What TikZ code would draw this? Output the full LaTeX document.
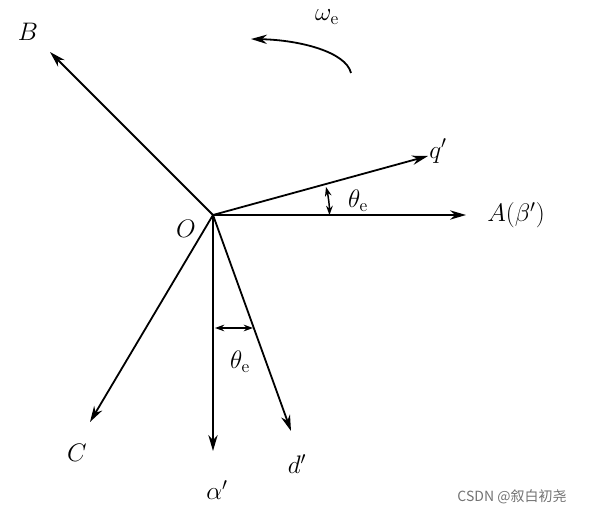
\RequirePackage{fix-cm}
\documentclass[tikz,border=0pt]{standalone}
\usepackage{fontspec}
\newfontfamily\cjk{Noto Sans CJK SC}
\usetikzlibrary{arrows.meta}

\tikzset{
    vec/.style={line width=1.35pt, -{Stealth[length=12pt,width=7pt]}},
    ang/.style={line width=1.1pt, {Stealth[length=7pt,width=5pt]}-{Stealth[length=7pt,width=5pt]}},
    lbl/.style={inner sep=0.75pt, font=\fontsize{19}{22}\selectfont}
}

\begin{document}
\begin{tikzpicture}[x=0.75pt,y=0.75pt,yscale=-1,xscale=1]
    \useasboundingbox (0,0) rectangle (596,523);

    %origin and vector tips
    \coordinate (O) at (213,215);
    \coordinate (tA) at (466,215);
    \coordinate (tq) at (428,156);
    \coordinate (tB) at (50,52);
    \coordinate (tC) at (90,422);
    \coordinate (ta) at (213,451);
    \coordinate (td) at (291,431);

    %vectors
    \draw [vec] (O) -- (tA);
    \draw [vec] (O) -- (tq);
    \draw [vec] (O) -- (tB);
    \draw [vec] (O) -- (tC);
    \draw [vec] (O) -- (ta);
    \draw [vec] (O) -- (td);

    %angle markers
    \draw [ang] (326,187) arc [start angle=-14, end angle=0, radius=116];
    \draw [ang] (215,328) -- (253,328);

    %rotation arrow
    \coordinate (w1) at (351,73);
    \coordinate (w2) at (251,39);
    \draw [line width=1.35pt, -{Stealth[length=12pt,width=7pt]}] (w1) .. controls (346,52) and (300,40) .. (w2);

    % Text Nodes
    \node [lbl] (lB) at (28,32) {$B$};
    \node [lbl] (lw) at (327,17) {$\omega_{\mathrm{e}}$};
    \node [lbl] (lq) at (438,151) {$q'$};
    \node [lbl] (lt1) at (358,201) {$\theta_{\mathrm{e}}$};
    \node [lbl] (lA) at (516,215) {$A(\beta')$};
    \node [lbl] (lO) at (186,229) {$O$};
    \node [lbl] (lt2) at (240,362) {$\theta_{\mathrm{e}}$};
    \node [lbl] (lC) at (77,453) {$C$};
    \node [lbl] (la) at (217,490) {$\alpha'$};
    \node [lbl] (ld) at (297,464) {$d'$};
    \node [inner sep=0.75pt, text=black!55, font=\cjk\fontsize{10.5}{12}\selectfont] (wm) at (512,497) {CSDN @叙白初尧};

\end{tikzpicture}
\end{document}
